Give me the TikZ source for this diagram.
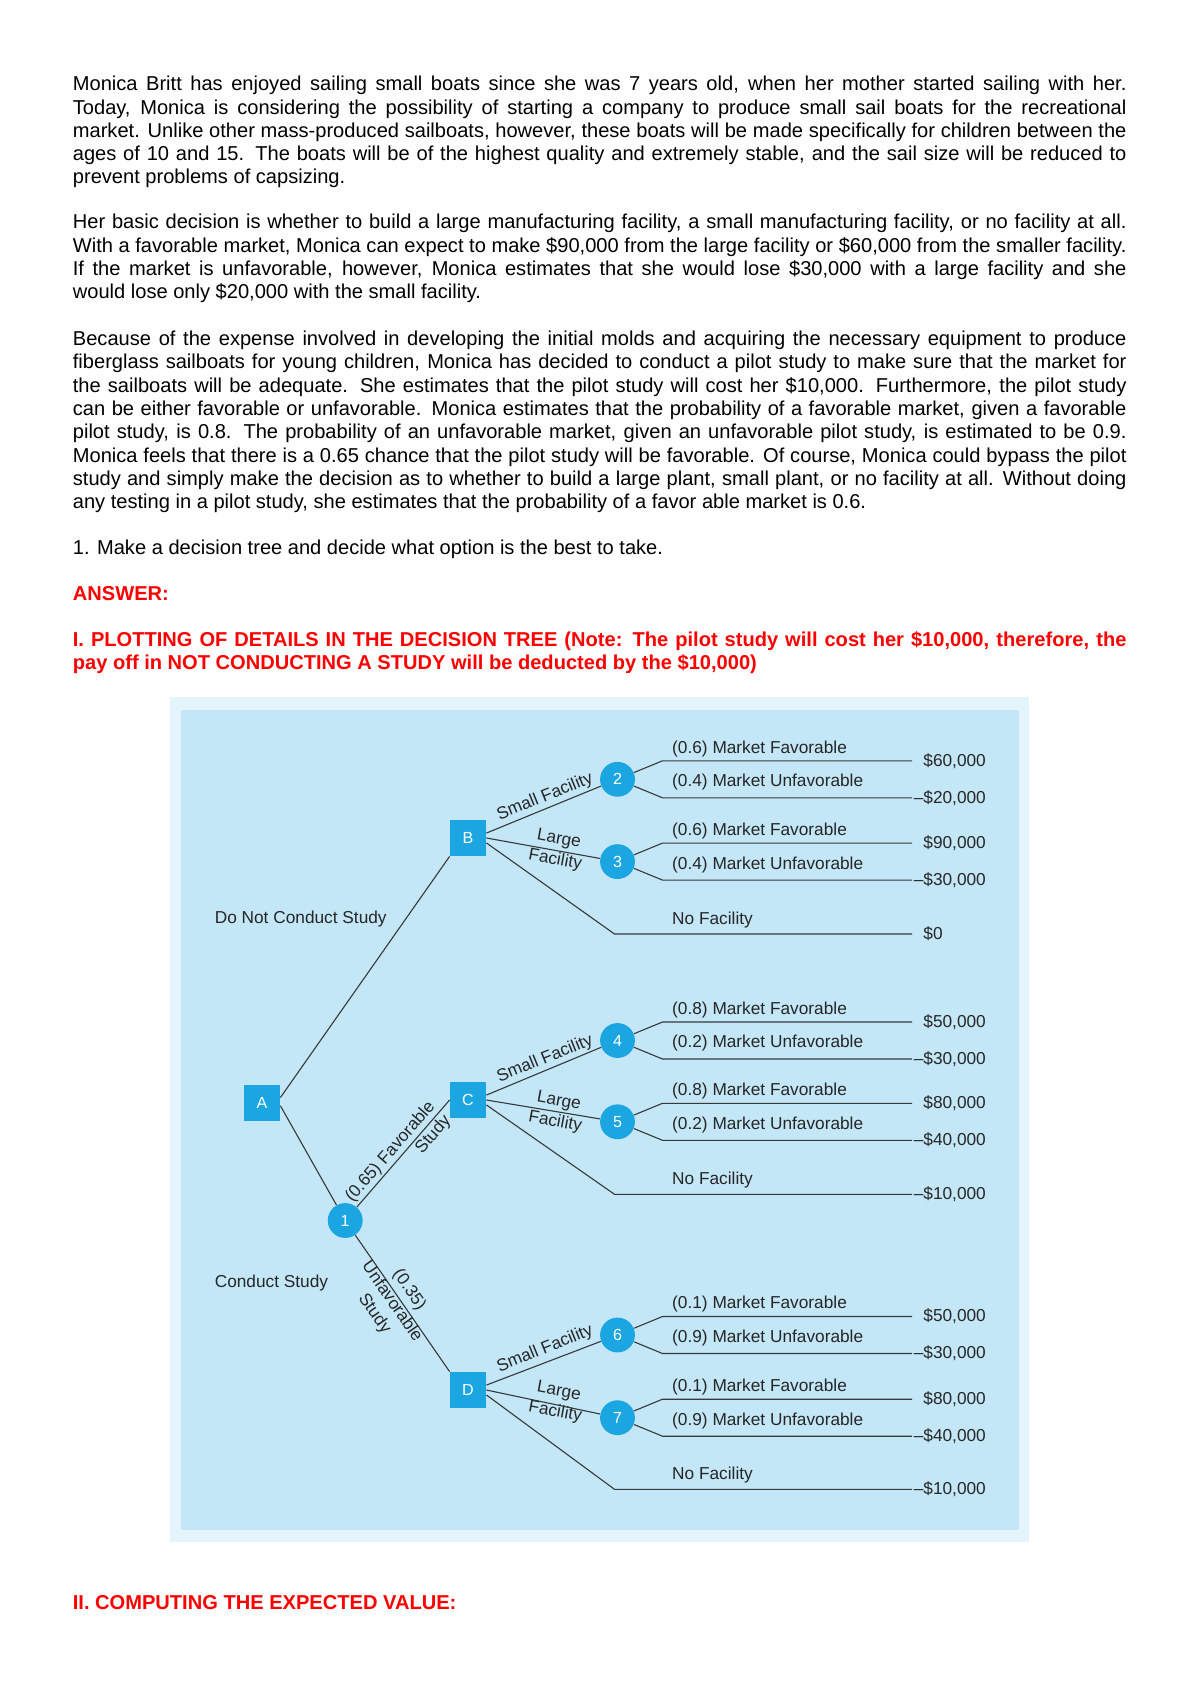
\documentclass[tikz,border=0pt]{standalone}
\usepackage{fontspec}
\setmainfont{Liberation Sans}
\usepackage{tikz}
\usetikzlibrary{positioning, calc}
\definecolor{sailcyan}{HTML}{1BA6E1}
\definecolor{sailpanel}{HTML}{C4E7F8}
\definecolor{sailframe}{HTML}{E3F4FC}
\definecolor{sailred}{HTML}{FF0000}
\definecolor{sailgrey}{HTML}{383838}
\newcommand{\jline}[1]{\makebox[18.44cm][s]{#1}}

\begin{document}
\begin{tikzpicture}[x=0.0175cm, y=-0.0175cm,
    body/.style={anchor=base west, inner sep=0pt, font=\fontsize{10}{11.6}\selectfont},
    head/.style={anchor=base west, inner sep=0pt, text=sailred, font=\fontsize{10}{11.6}\selectfont\bfseries},
    dsq/.style={rectangle, fill=sailcyan, text=white, minimum size=0.63cm, inner sep=0pt, font=\fontsize{8}{9}\selectfont},
    chn/.style={circle, fill=sailcyan, text=white, minimum size=0.61cm, inner sep=0pt, font=\fontsize{8}{9}\selectfont},
    branch/.style={draw=sailgrey, line width=0.55pt},
    lbl/.style={inner sep=0pt, text=black!85, font=\fontsize{8.6}{10.5}\selectfont}]

  \useasboundingbox (0,0) rectangle (1200,1696);

  % problem statement
  \foreach \linetext [count=\i from 0] in {
    {Monica Britt has enjoyed sailing small boats since she was 7 years old, when her mother started sailing with her.},
    {Today, Monica is considering the possibility of starting a company to produce small sail boats for the recreational},
    {market. Unlike other mass-produced sailboats, however, these boats will be made specifically for children between the},
    {ages of 10 and 15. The boats will be of the highest quality and extremely stable, and the sail size will be reduced to}}
    \node[body] (pa\i) at (72.5,91+\i*23.26) {\jline{\linetext}};
  \node[body] (pa4) at (72.5,184) {prevent problems of capsizing.};

  \foreach \linetext [count=\i from 0] in {
    {Her basic decision is whether to build a large manufacturing facility, a small manufacturing facility, or no facility at all.},
    {With a favorable market, Monica can expect to make \$90,000 from the large facility or \$60,000 from the smaller facility.},
    {If the market is unfavorable, however, Monica estimates that she would lose \$30,000 with a large facility and she}}
    \node[body] (pb\i) at (72.5,228.8+\i*23.26) {\jline{\linetext}};
  \node[body] (pb3) at (72.5,298.6) {would lose only \$20,000 with the small facility.};

  \foreach \linetext [count=\i from 0] in {
    {Because of the expense involved in developing the initial molds and acquiring the necessary equipment to produce},
    {fiberglass sailboats for young children, Monica has decided to conduct a pilot study to make sure that the market for},
    {the sailboats will be adequate. She estimates that the pilot study will cost her \$10,000. Furthermore, the pilot study},
    {can be either favorable or unfavorable. Monica estimates that the probability of a favorable market, given a favorable},
    {pilot study, is 0.8. The probability of an unfavorable market, given an unfavorable pilot study, is estimated to be 0.9.},
    {Monica feels that there is a 0.65 chance that the pilot study will be favorable. Of course, Monica could bypass the pilot},
    {study and simply make the decision as to whether to build a large plant, small plant, or no facility at all. Without doing}}
    \node[body] (pc\i) at (72.5,345.7+\i*23.26) {\jline{\linetext}};
  \node[body] (pc7) at (72.5,508.5) {any testing in a pilot study, she estimates that the probability of a favor able market is 0.6.};

  \node[body] (task) at (72.5,554.5) {1. Make a decision tree and decide what option is the best to take.};
  \node[head] (answer) at (72.5,600) {ANSWER:};
  \node[head] (plot1) at (72.5,646.5) {\jline{I. PLOTTING OF DETAILS IN THE DECISION TREE (Note: The pilot study will cost her \$10,000, therefore, the}};
  \node[head] (plot2) at (72.5,669.8) {pay off in NOT CONDUCTING A STUDY will be deducted by the \$10,000)};

  % decision tree panel
  \fill[sailframe] (170,697) rectangle (1028.5,1541.7);
  \fill[sailpanel] (181,709.5) rectangle (1018.6,1530);

  \node[dsq] (A) at (262,1102.5) {A};
  \node[chn] (n1) at (345.2,1220.5) {1};
  \foreach \dn/\y in {B/838, C/1100, D/1390}{
    \node[dsq] (\dn) at (468,\y) {\dn};
    \node[lbl, rotate=22] (sf\dn) at (545,\y-41) {Small Facility};
    \node[lbl, rotate=-10.5, align=center] (lf\dn) at (557,\y+12) {Large\\Facility};
  }

  \foreach \n/\y/\pfav/\punf/\vfav/\vunf in {
      2/779.3/0.6/0.4/{\$60,000}/{\llap{–}\$20,000},
      3/861.6/0.6/0.4/{\$90,000}/{\llap{–}\$30,000},
      4/1040.5/0.8/0.2/{\$50,000}/{\llap{–}\$30,000},
      5/1121.8/0.8/0.2/{\$80,000}/{\llap{–}\$40,000},
      6/1335/0.1/0.9/{\$50,000}/{\llap{–}\$30,000},
      7/1417.7/0.1/0.9/{\$80,000}/{\llap{–}\$40,000}}{
    \node[chn] (n\n) at (617.5,\y) {\n};
    \coordinate (kf\n) at (662.5,\y-18.5);
    \coordinate (ef\n) at (912,\y-18.5);
    \coordinate (ku\n) at (662.5,\y+18.5);
    \coordinate (eu\n) at (912,\y+18.5);
    \draw[branch] (n\n) -- (kf\n) -- (ef\n);
    \draw[branch] (n\n) -- (ku\n) -- (eu\n);
    \node[lbl, anchor=west] (pf\n) at (671.8,\y-30.5) {(\pfav) Market Favorable};
    \node[lbl, anchor=west] (pu\n) at (671.8,\y+3) {(\punf) Market Unfavorable};
    \node[lbl, anchor=west] (vf\n) at (923,\y-18.5) {\vfav};
    \node[lbl, anchor=west] (vu\n) at (923,\y+18.5) {\vunf};
  }

  \foreach \dn/\up/\lo in {B/2/3, C/4/5, D/6/7}{
    \draw[branch] (\dn.15) -- (n\up);
    \draw[branch] (\dn.0) -- (n\lo);
  }

  % no facility
  \foreach \dn/\y/\payoff in {B/934/{\$0}, C/1194.3/{\llap{–}\$10,000}, D/1489.3/{\llap{–}\$10,000}}{
    \coordinate (kn\dn) at (614.5,\y);
    \coordinate (en\dn) at (912,\y);
    \draw[branch] (\dn.-15) -- (kn\dn) -- (en\dn);
    \node[lbl, anchor=west] (nf\dn) at (671.8,\y-14) {No Facility};
    \node[lbl, anchor=west] (vn\dn) at (923,\y) {\payoff};
  }

  \draw[branch] (A.15) -- (B.south west);
  \draw[branch] (A.-10) -- (n1);
  \draw[branch] (n1) -- (C.west);
  \draw[branch] (n1) -- (D.north west);
  \node[lbl, rotate=49, align=right] (fav) at (398.5,1159) {(0.65) Favorable\\Study};
  \node[lbl, rotate=-55.3, align=center] (unfav) at (391.7,1301.7) {(0.35)\\Unfavorable\\Study};
  \node[lbl, anchor=west] (nostudy) at (214.4,919.3) {Do Not Conduct Study};
  \node[lbl, anchor=west] (study) at (214.4,1282.7) {Conduct Study};

  \node[head] (ev) at (72.5,1609.6) {II. COMPUTING THE EXPECTED VALUE:};
\end{tikzpicture}
\end{document}
